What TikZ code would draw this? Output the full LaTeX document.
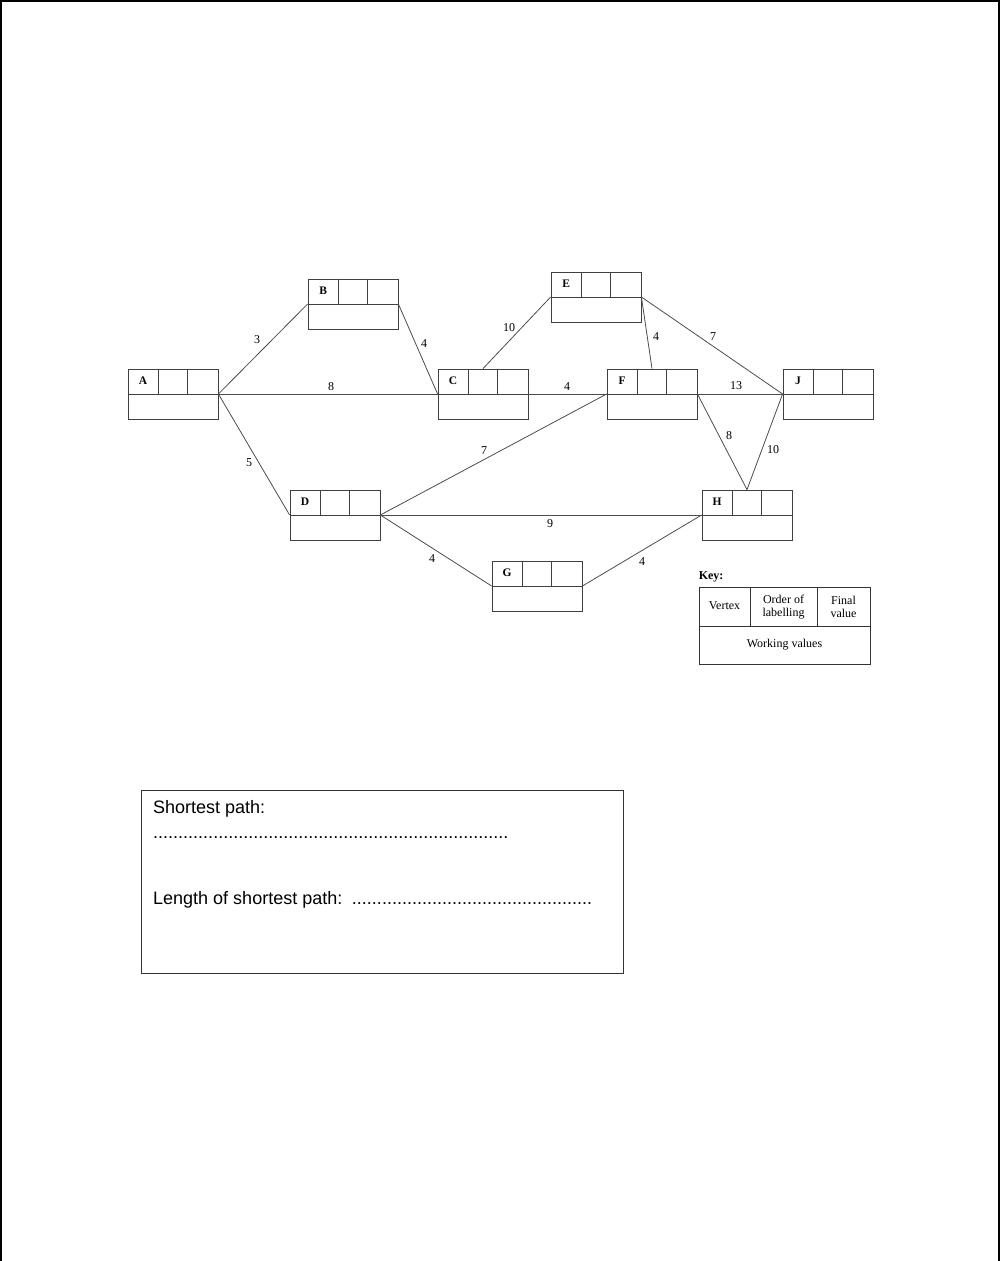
\documentclass[tikz,border=0pt]{standalone}
\usepackage{fontspec}
\setmainfont{Liberation Serif}
\newfontfamily\arialfont{Liberation Sans}
\usepackage{tikz}
\usetikzlibrary{calc}

\tikzset{
    vbox/.style={draw=black!75, line width=0.8pt, minimum width=90pt, minimum height=50pt, inner sep=0pt},
    arc/.style={draw=black!70, line width=0.8pt},
    wt/.style={font=\fontsize{12}{14}\selectfont, inner sep=1pt},
    keytext/.style={font=\fontsize{12}{13}\selectfont, align=center, inner sep=0pt}
}

\begin{document}
\begin{tikzpicture}[x=1pt, y=-1pt]
                % page
                \useasboundingbox (0,0) rectangle (1000,1261);
                \draw[line width=2.5pt] (1,1261) -- (1,1) -- (999,1) -- (999,1261);

                % Vertex boxes
                \foreach \n/\x/\y in {A/173/394, B/353/304, C/483/394, E/596/297, F/652/394,
                                      J/828/394, D/335/515, G/537/586, H/747/515} {
                    \node[vbox] (\n) at (\x,\y) {};
                    \draw[black!75, line width=0.8pt] (\n.west) -- (\n.east);
                    \draw[black!75, line width=0.8pt] ($(\n.north west)+(31,0)$) -- ($(\n.west)+(31,0)$);
                    \draw[black!75, line width=0.8pt] ($(\n.north west)+(60,0)$) -- ($(\n.west)+(60,0)$);
                    \node[font=\fontsize{11.5}{12}\selectfont\bfseries] at ($(\n.north west)+(15.5,12.5)$) {\n};
                }

                % Arcs
                \draw[arc] (A.east) -- (B.west);
                \draw[arc] (A.east) -- (C.west);
                \draw[arc] (A.east) -- (D.west);
                \draw[arc] (B.east) -- (C.west);
                \draw[arc] (C.north) -- (E.west);
                \draw[arc] (C.east) -- (F.west);
                \draw[arc] (E.east) -- (F.north);
                \draw[arc] (E.east) -- (J.west);
                \draw[arc] (F.east) -- (J.west);
                \draw[arc] (F.east) -- (H.north);
                \draw[arc] (J.west) -- (H.north);
                \draw[arc] (D.east) -- (F.west);
                \draw[arc] (D.east) -- (H.west);
                \draw[arc] (D.east) -- (G.west);
                \draw[arc] (G.east) -- (H.west);

                % Weights
                \node[wt] (wAB) at (257,340) {3};
                \node[wt] (wAC) at (331,387) {8};
                \node[wt] (wAD) at (249,463) {5};
                \node[wt] (wBC) at (424,344) {4};
                \node[wt] (wCE) at (509,328) {10};
                \node[wt] (wCF) at (567,387) {4};
                \node[wt] (wEF) at (656,337) {4};
                \node[wt] (wEJ) at (713,337) {7};
                \node[wt] (wFJ) at (736,386) {13};
                \node[wt] (wFH) at (729,436) {8};
                \node[wt] (wJH) at (773,450) {10};
                \node[wt] (wDF) at (484,451) {7};
                \node[wt] (wDH) at (550,524) {9};
                \node[wt] (wDG) at (432,559) {4};
                \node[wt] (wGH) at (642,562) {4};

                % Key
                \node[draw=black!80, line width=0.8pt, minimum width=171pt, minimum height=77pt, inner sep=0pt] (key) at (784.5,625.5) {};
                \draw[black!80, line width=0.8pt] (699,626) -- (870,626);
                \draw[black!80, line width=0.8pt] (750,587) -- (750,626);
                \draw[black!80, line width=0.8pt] (817,587) -- (817,626);
                \node[keytext, font=\fontsize{12}{13}\selectfont\bfseries, anchor=south west] (keyhead) at ($(key.north west)+(0,-4)$) {Key:};
                \node[keytext] (kvert) at (724.5,606) {Vertex};
                \node[keytext] (korder) at (783.5,607) {Order of\\labelling};
                \node[keytext] (kfinal) at (843.5,607) {Final\\value};
                \node[keytext] (kwork) at (784.5,645) {Working values};

                % Answer box
                \draw[black!80, line width=0.9pt] (141,790) rectangle (623,973);
                \node[font=\arialfont\fontsize{18}{20}\selectfont, anchor=base west, inner sep=0pt] (sp) at (153,813) {Shortest path:};
                \node[font=\arialfont\fontsize{18}{20}\selectfont, anchor=base west, inner sep=0pt] (spdots) at (153,838)
                    {.......................................................................};
                \node[font=\arialfont\fontsize{18}{20}\selectfont, anchor=base west, inner sep=0pt] (len) at (153,904)
                    {Length of shortest path: \hspace{3pt}................................................};
            \end{tikzpicture}
\end{document}
